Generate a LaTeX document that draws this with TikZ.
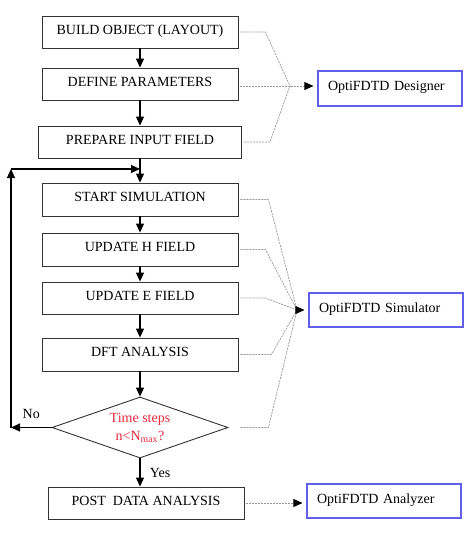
\documentclass[tikz,border=0pt]{standalone}
\usepackage{fontspec}
\setmainfont{Liberation Serif}
\usetikzlibrary{positioning,shapes.geometric,arrows.meta}
\definecolor{toolblue}{RGB}{95,95,235}
\definecolor{askred}{RGB}{230,40,60}
\definecolor{linkgray}{RGB}{150,150,150}

\begin{document}
\begin{tikzpicture}[x=1pt,y=-1pt,node distance=50pt,on grid,
                      font=\fontsize{14}{18}\selectfont,
                      stage/.style={draw=black!80,line width=0.9pt,minimum width=196pt,minimum height=32pt,
                        inner sep=0pt,text height=10pt,text depth=6pt},
                      tool/.style={draw=toolblue,line width=1.2pt,minimum height=34pt,inner xsep=10pt,inner ysep=0pt,
                        text width=134pt,align=left,text height=10pt,text depth=6pt},
                      ask/.style={draw=black!80,line width=0.9pt,shape=diamond,aspect=2.9,minimum width=176pt,
                        minimum height=61pt,inner sep=0pt,align=center,text=askred},
                      flow/.style={-{Triangle[length=9pt,width=8pt]},line width=1.1pt},
                      link/.style={draw=linkgray,line width=0.7pt,dash pattern=on 2pt off 1pt,shorten <=2pt},
                      tip/.style={-{Triangle[length=9pt,width=8pt,color=black,fill=black]},shorten >=4pt}]
                      \useasboundingbox (0,0) rectangle (474,542);
                      % main chain
                      \node[stage] (build) at (140,32) {BUILD OBJECT (LAYOUT)};
                      \node[stage] (define) [below=52pt of build] {DEFINE PARAMETERS};
                      \node[stage, minimum width=203pt] (prep) [below=58pt of define] {PREPARE INPUT FIELD};
                      \node[stage, minimum height=33pt] (start) [below=57.5pt of prep] {START SIMULATION};
                      \node[stage, minimum height=33pt] (updh) [below=50pt of start] {UPDATE H FIELD};
                      \node[stage] (upde) [below=48.5pt of updh] {UPDATE E FIELD};
                      \node[stage, minimum height=33pt] (dft) [below=56.5pt of upde] {DFT ANALYSIS};
                      \node[ask] (dec) [below=73pt of dft] {Time steps\\n<N\textsubscript{max}?};
                      \node[stage] (post) [below=75.5pt of dec, xshift=6pt] {POST \ DATA ANALYSIS};
                      % tools
                      \node[tool, text width=124pt, minimum height=35pt] (designer) at (390,88.5) {OptiFDTD Designer};
                      \node[tool] (simulator) at (386,310) {OptiFDTD Simulator};
                      \node[tool] (analyzer) at (384,501) {OptiFDTD Analyzer};
                      % joints
                      \coordinate (dsg) at (290,86);
                      \coordinate (sim) at (297,310);
                      \coordinate (noend) at (11,427.5);
                      \coordinate (back) at (11,169);
                      \path[flow]
                      (build) edge (define)
                      (define) edge (prep)
                      (prep) edge (start)
                      (start) edge (updh)
                      (updh) edge (upde)
                      (upde) edge (dft)
                      (dft) edge (dec)
                      (dec.south) edge node[anchor=west, xshift=6pt]{Yes} (dec.south |- post.north)
                      (dec.west) edge node[anchor=south, pos=0.5, yshift=5pt]{No} (noend)
                      (noend) edge (back)
                      (back) edge (back -| start.north);
                      % links to the tools
                      \draw[link] (build.east) -- ++(27,0) -- (dsg);
                      \draw[link] (prep.east) -- ++(28,0) -- (dsg);
                      \draw[link,tip] (define.east |- dsg) -- (dsg) -- (dsg -| designer.west);
                      \draw[link] (start.east) -- ++(30,0) -- (sim);
                      \draw[link] (updh.east) -- ++(27,0) -- (sim);
                      \draw[link] (upde.east) -- ++(27,0) -- (sim);
                      \draw[link] (dft.east) -- ++(33,0) -- (sim);
                      \draw[link, shorten <=12pt] (dec.east) -- ++(40,0) -- (sim);
                      \draw[link,tip] (sim) -- (simulator.west);
                      \draw[link,tip] (post.east) -- (post.east -| analyzer.west);
                  \end{tikzpicture}
\end{document}
